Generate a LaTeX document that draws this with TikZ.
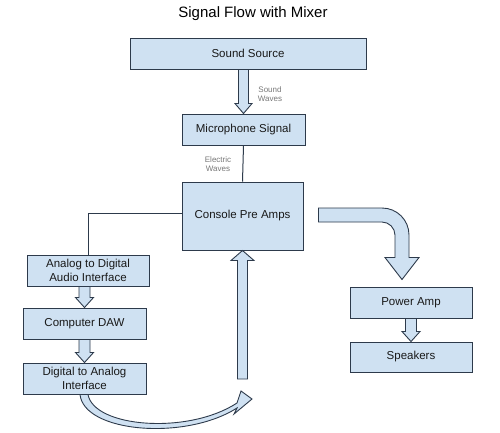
\documentclass[tikz,border=0pt]{standalone}
\usepackage{fontspec}
\setmainfont{Liberation Sans}
\usetikzlibrary{calc}
\definecolor{boxfill}{RGB}{207,225,242}
\definecolor{boxline}{RGB}{45,58,75}
\definecolor{notegray}{RGB}{120,120,120}
\begin{document}
\begin{tikzpicture}[x=1pt,y=-1pt,
  box/.style={draw=boxline,fill=boxfill,line width=1pt,align=center,inner sep=0pt,
    font=\fontsize{11.5}{13.5}\selectfont,text=black!90},
  blockarr/.style={draw=boxline,fill=boxfill,line width=0.9pt,line join=miter},
  note/.style={align=center,text=notegray,font=\fontsize{8}{9.5}\selectfont}]
  \useasboundingbox[fill=white] (0,0) rectangle (500,432);
  \node (title) at (253,14) {\fontsize{15}{17}\selectfont Signal Flow with Mixer};
  % boxes
  \node[box,minimum width=236,minimum height=31] (src) at (248,53.5) {Sound Source};
  \node[box,minimum width=123,minimum height=31] (mic) at (243.5,129.5) {Microphone Signal};
  \node[box,minimum width=121,minimum height=68] (console) at (242.5,216) {Console Pre Amps};
  \node[box,minimum width=122,minimum height=31] (adc) at (88,270.5) {Analog to Digital\\Audio Interface};
  \node[box,minimum width=123,minimum height=31] (daw) at (84.5,323.5) {Computer DAW};
  \node[box,minimum width=123,minimum height=31] (dac) at (84.5,378.5) {Digital to Analog\\Interface};
  \node[box,minimum width=122,minimum height=31] (pamp) at (411,302.5) {Power Amp};
  \node[box,minimum width=122,minimum height=30] (spk) at (411,357) {Speakers};
  \node[note] (sw) at (270,94) {Sound\\Waves};
  \node[note] (ew) at (218,164) {Electric\\Waves};
  \coordinate (upfoot) at (243,379);
  \coordinate (ret) at (252,399);
  % thin lines
  \draw[boxline,line width=1pt] (mic.south) -- (console.north);
  \draw[boxline,line width=1pt] ($(console.west)+(0,-3)$) -| (adc.north);
  % block arrows: #1 from, #2 to, #3 shaft half width, #4 head half width, #5 head length
  \newcommand{\vblock}[5]{%
    \draw[blockarr] let \p1=(#1), \p2=(#2) in
      (\x2-#3,\y1) -- (\x2-#3,\y2+#5) -- (\x2-#4,\y2+#5) -- (\x2,\y2)
      -- (\x2+#4,\y2+#5) -- (\x2+#3,\y2+#5) -- (\x2+#3,\y1) -- cycle;}
  \vblock{src.south}{mic.north}{5pt}{8.5pt}{10pt}
  \vblock{adc.south}{daw.north}{5.5pt}{9pt}{10pt}
  \vblock{daw.south}{dac.north}{5.5pt}{9pt}{10pt}
  \vblock{pamp.south}{spk.north}{5.5pt}{9pt}{10pt}
  \vblock{upfoot}{console.south}{5pt}{11.5pt}{-10pt}
  % bent arrow to the power amp
  \draw[blockarr] let \p1=(console.east), \p2=(pamp.north) in
    (\x1+15pt,\y1+8pt) -- (\x2-29pt,\y1+8pt)
    .. controls (\x2-14pt,\y1+8pt) and (\x2-2pt,\y1-4pt) .. (\x2-2pt,\y1-19pt)
    -- (\x2-2pt,\y2+29pt) -- (\x2+8pt,\y2+29pt) -- (\x2-9pt,\y2+7pt)
    -- (\x2-26pt,\y2+29pt) -- (\x2-16pt,\y2+29pt) -- (\x2-16pt,\y1-19pt)
    .. controls (\x2-16pt,\y1-12pt) and (\x2-22pt,\y1-6pt) .. (\x2-29pt,\y1-6pt)
    -- (\x1+15pt,\y1-6pt) -- cycle;
  % curved return arrow
  \draw[blockarr] let \p1=(dac.south), \p2=(ret) in
    (\x1-4.5pt,\y1)
    .. controls (\x1-0.5pt,\y1-38pt) and (\x2-67pt,\y2-42pt) .. (\x2-15pt,\y2-9pt)
    -- (\x2-18pt,\y2-15pt) -- (\p2) -- (\x2-11pt,\y2+8pt) -- (\x2-15pt,\y2-4pt)
    .. controls (\x2-64pt,\y2-36pt) and (\x1+9.5pt,\y1-33pt) .. (\x1+3.5pt,\y1)
    -- cycle;
\end{tikzpicture}
\end{document}
